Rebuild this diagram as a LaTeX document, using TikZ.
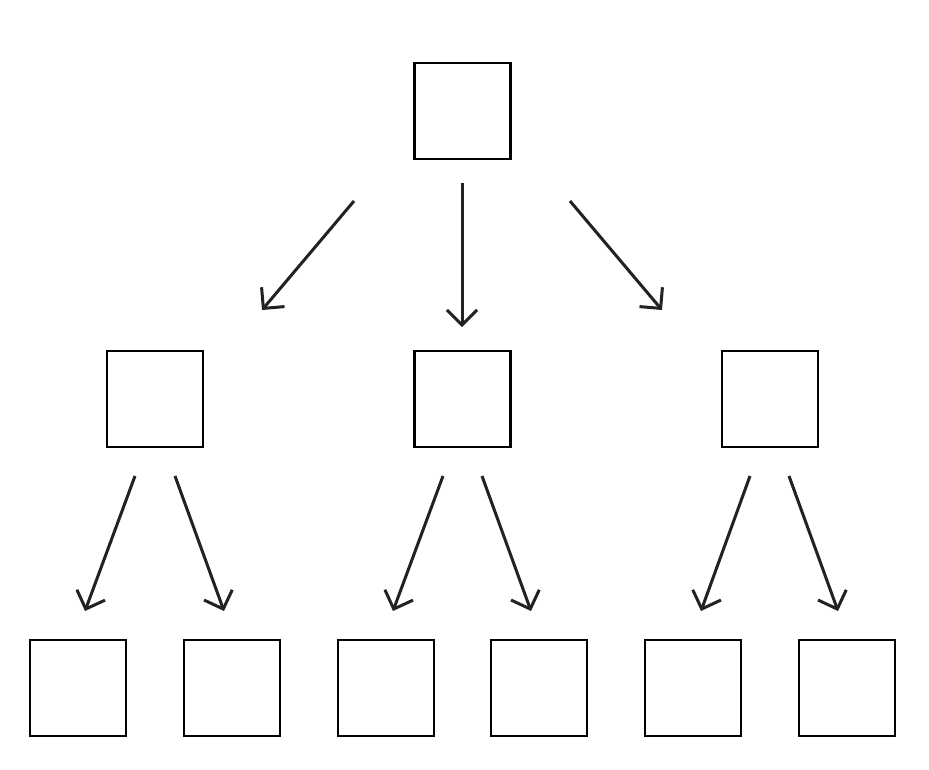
\documentclass[tikz,border=0pt]{standalone}
\usetikzlibrary{arrows.meta}
\definecolor{ink}{HTML}{222222}
\begin{document}
\begin{tikzpicture}[x=1pt,y=-1pt,
  box/.style={draw=black,line width=2.6pt,minimum width=96pt,minimum height=96pt,inner sep=0pt,fill=white},
  arr/.style={draw=ink,line width=3pt,-{Straight Barb[length=15pt,width=30pt,line width=3pt]}}]
\useasboundingbox (0,0) rectangle (929,769);
\fill[white] (0,0) rectangle (929,769);
% boxes
\node[box] (root) at (462.5,111) {};
\node[box] (m1) at (155,399) {};
\node[box] (m2) at (462.5,399) {};
\node[box] (m3) at (770,399) {};
\node[box] (b1) at (78,688) {};
\node[box] (b2) at (232,688) {};
\node[box] (b3) at (386,688) {};
\node[box] (b4) at (539,688) {};
\node[box] (b5) at (693,688) {};
\node[box] (b6) at (847,688) {};
% arrow endpoints
\coordinate (s1) at (354,201); \coordinate (e1) at (262,310);
\coordinate (s2) at (462,183); \coordinate (e2) at (462,327);
\coordinate (s3) at (570,201); \coordinate (e3) at (662,310);
\coordinate (s4) at (135,476); \coordinate (e4) at (85,611);
\coordinate (s5) at (175,476); \coordinate (e5) at (224,611);
\coordinate (s6) at (443,476); \coordinate (e6) at (393,611);
\coordinate (s7) at (482,476); \coordinate (e7) at (531,611);
\coordinate (s8) at (750,476); \coordinate (e8) at (701,611);
\coordinate (s9) at (789,476); \coordinate (e9) at (838,611);
\foreach \i in {1,...,9} {\draw[arr] (s\i) -- (e\i);}
\end{tikzpicture}
\end{document}
